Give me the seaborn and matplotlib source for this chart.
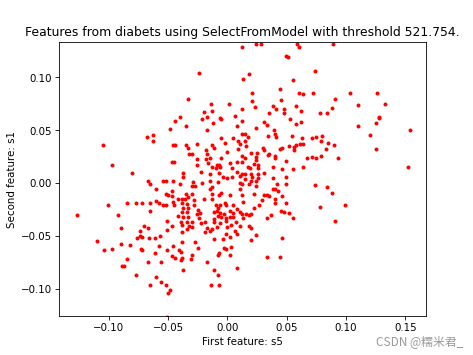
import matplotlib
matplotlib.use("Agg")
import matplotlib.pyplot as plt
import seaborn as sns

# feature values (first feature / second feature)
first_feature = [
    0.012, -0.024, 0.013, -0.033, -0.014, 0.001, -0.020, -0.013, 0.012, -0.040,
    -0.044, -0.021, -0.017, -0.006, -0.005, 0.006, 0.012, -0.012, -0.035, -0.048,
    -0.017, 0.008, 0.012, -0.063, 0.024, 0.028, 0.059, 0.060, 0.089, 0.049,
    0.051, 0.074, 0.018, 0.055, 0.044, 0.021, 0.060, 0.064, 0.072, 0.021,
    0.045, 0.091, 0.023, 0.038, 0.041, 0.048, 0.058, 0.062, 0.035, 0.048,
    0.078, 0.084, 0.088, 0.053, 0.062, 0.031, 0.033, 0.058, 0.024, 0.039,
    0.040, 0.054, 0.015, 0.034, 0.080, 0.103, 0.126, 0.110, 0.133, 0.128,
    0.128, 0.125, 0.110, 0.154, 0.120, -0.068, -0.105, -0.097, -0.080, -0.067,
    -0.065, -0.101, -0.085, -0.077, -0.072, -0.065, -0.127, -0.092, -0.065, -0.090,
    -0.070, -0.067, 0.090, 0.125, 0.093, 0.152, 0.099, 0.091, 0.020, 0.024,
    0.020, 0.046, 0.033, 0.044, -0.110, -0.104, -0.097, -0.090, -0.082, -0.076,
    -0.074, -0.072, -0.074, -0.066, -0.073, -0.072, -0.085, -0.089, -0.087, -0.067,
    -0.077, -0.065, -0.051, -0.061, -0.057, -0.047, -0.038, -0.034, -0.019, -0.015,
    -0.013, 0.000, -0.001, 0.006, 0.008, -0.011, -0.004, 0.002, -0.038, -0.027,
    -0.046, -0.058, -0.051, -0.041, -0.039, -0.025, -0.061, -0.003, -0.001, 0.003,
    -0.007, -0.008, 0.002, -0.047, -0.044, -0.039, -0.038, -0.030, -0.031, -0.056,
    -0.017, -0.037, -0.011, 0.008, -0.008, -0.060, -0.056, -0.052, -0.014, -0.007,
    -0.048, -0.050, -0.051, -0.063, -0.046, -0.044, -0.035, -0.033, -0.026, -0.013,
    -0.011, -0.005, -0.002, 0.005, 0.009, 0.011, -0.032, -0.030, -0.018, -0.017,
    0.000, 0.009, -0.026, -0.018, -0.015, -0.005, -0.047, -0.045, -0.016, -0.009,
    -0.007, -0.006, 0.002, 0.008, -0.010, 0.004, 0.012, -0.026, -0.013, -0.037,
    -0.022, -0.037, -0.015, -0.007, 0.008, 0.011, -0.004, 0.004, 0.000, -0.054,
    -0.052, -0.046, -0.040, -0.029, -0.021, -0.015, -0.008, -0.015, -0.013, 0.011,
    -0.030, -0.027, -0.060, -0.047, -0.052, -0.050, -0.047, -0.035, -0.030, -0.013,
    -0.007, -0.005, 0.002, 0.011, 0.012, -0.042, -0.038, -0.036, -0.033, -0.028,
    -0.020, -0.013, -0.060, -0.058, -0.046, -0.038, -0.034, -0.054, -0.052, -0.045,
    -0.037, -0.033, -0.028, -0.025, -0.010, -0.008, -0.006, -0.002, -0.001, 0.005,
    0.013, -0.038, -0.034, -0.026, -0.023, -0.011, -0.009, -0.006, -0.003, 0.002,
    0.005, 0.011, 0.008, -0.042, -0.037, -0.033, -0.024, -0.011, -0.008, -0.005,
    -0.001, 0.002, 0.005, 0.012, 0.013, -0.039, -0.038, -0.034, -0.030, -0.022,
    -0.019, -0.011, -0.006, -0.001, 0.003, 0.007, -0.032, -0.030, -0.017, -0.009,
    0.011, -0.051, 0.017, 0.015, 0.016, 0.041, 0.063, 0.071, 0.075, 0.079,
    0.085, 0.058, 0.061, 0.064, 0.056, 0.052, 0.046, 0.044, 0.030, 0.031,
    0.020, 0.025, 0.012, 0.035, 0.034, 0.040, 0.040, 0.056, 0.015, 0.024,
    0.024, 0.049, 0.067, 0.071, 0.075, 0.079, 0.083, 0.022, 0.017, 0.019,
    0.026, 0.026, 0.038, 0.046, 0.055, 0.064, 0.012, 0.015, 0.020, 0.021,
    0.026, 0.026, 0.031, 0.015, 0.038, 0.049, 0.020, 0.024, 0.012, 0.018,
    0.024, 0.042, 0.049, 0.074, 0.084, 0.038, 0.040, 0.033, 0.035, 0.031,
    0.043, 0.022, 0.046, 0.088, 0.040, 0.029, 0.040, 0.049, 0.027, 0.022,
    0.078, 0.018, 0.016, 0.020, 0.045, 0.048, 0.052, 0.037, 0.033, 0.055,
    0.018,
]
second_feature = [
    0.129, 0.104, 0.099, 0.080, 0.075, 0.075, 0.067, 0.068, 0.070, 0.063,
    0.059, 0.061, 0.063, 0.062, 0.061, 0.064, 0.059, 0.057, 0.054, 0.051,
    0.050, 0.054, 0.047, 0.046, 0.132, 0.132, 0.132, 0.129, 0.132, 0.120,
    0.119, 0.106, 0.103, 0.098, 0.089, 0.085, 0.085, 0.084, 0.085, 0.078,
    0.079, 0.080, 0.072, 0.073, 0.070, 0.070, 0.073, 0.068, 0.066, 0.066,
    0.066, 0.066, 0.071, 0.061, 0.058, 0.058, 0.055, 0.056, 0.052, 0.050,
    0.047, 0.045, 0.047, 0.045, 0.045, 0.085, 0.085, 0.074, 0.075, 0.063,
    0.062, 0.057, 0.054, 0.050, 0.046, 0.044, 0.036, 0.017, 0.010, 0.002,
    -0.001, -0.021, -0.019, -0.019, -0.019, -0.019, -0.030, -0.030, -0.026, -0.042,
    -0.040, -0.042, 0.036, 0.032, 0.024, 0.015, -0.021, -0.036, -0.042, -0.049,
    -0.054, -0.052, -0.070, -0.070, -0.055, -0.063, -0.062, -0.057, -0.058, -0.052,
    -0.050, -0.051, -0.045, -0.052, -0.062, -0.063, -0.072, -0.078, -0.078, -0.074,
    -0.087, -0.096, -0.044, -0.052, -0.050, -0.040, -0.046, -0.043, -0.046, -0.045,
    -0.043, -0.041, -0.048, -0.045, -0.048, -0.053, -0.053, -0.051, -0.056, -0.056,
    -0.059, -0.059, -0.063, -0.063, -0.065, -0.061, -0.066, -0.061, -0.062, -0.060,
    -0.066, -0.068, -0.068, -0.069, -0.071, -0.073, -0.071, -0.068, -0.072, -0.074,
    -0.074, -0.082, -0.082, -0.080, -0.087, -0.089, -0.093, -0.096, -0.096, -0.096,
    -0.101, -0.104, -0.126, 0.040, 0.036, 0.036, 0.036, 0.033, 0.037, 0.036,
    0.033, 0.043, 0.038, 0.043, 0.040, 0.037, 0.028, 0.028, 0.031, 0.028,
    0.030, 0.032, 0.023, 0.023, 0.024, 0.024, 0.020, 0.020, 0.019, 0.017,
    0.017, 0.015, 0.019, 0.020, 0.014, 0.014, 0.020, 0.017, 0.015, 0.010,
    0.011, 0.006, 0.009, 0.010, 0.011, 0.007, 0.006, 0.006, 0.005, 0.002,
    0.002, 0.002, -0.001, 0.001, 0.000, 0.002, 0.001, -0.005, -0.004, 0.000,
    -0.003, -0.003, -0.005, -0.007, -0.010, -0.011, -0.012, -0.010, -0.010, -0.010,
    -0.011, -0.009, -0.011, -0.005, -0.011, -0.015, -0.015, -0.015, -0.013, -0.016,
    -0.015, -0.015, -0.017, -0.019, -0.018, -0.019, -0.020, -0.021, -0.021, -0.021,
    -0.023, -0.023, -0.021, -0.025, -0.021, -0.023, -0.021, -0.019, -0.021, -0.021,
    -0.018, -0.027, -0.027, -0.029, -0.028, -0.027, -0.026, -0.028, -0.029, -0.026,
    -0.028, -0.027, -0.024, -0.031, -0.032, -0.032, -0.033, -0.034, -0.031, -0.032,
    -0.033, -0.032, -0.032, -0.029, -0.033, -0.037, -0.039, -0.037, -0.037, -0.038,
    -0.037, -0.037, -0.038, -0.036, -0.039, -0.037, -0.040, -0.041, -0.042, -0.041,
    -0.040, -0.036, 0.044, 0.040, 0.035, 0.044, 0.043, 0.043, 0.044, 0.040,
    0.038, 0.036, 0.037, 0.037, 0.034, 0.035, 0.033, 0.032, 0.033, 0.031,
    0.029, 0.029, 0.026, 0.028, 0.027, 0.026, 0.024, 0.031, 0.024, 0.025,
    0.022, 0.021, 0.024, 0.025, 0.024, 0.026, 0.032, 0.018, 0.015, 0.014,
    0.017, 0.014, 0.015, 0.013, 0.013, 0.015, 0.009, 0.009, 0.009, 0.006,
    0.009, 0.005, 0.010, 0.004, 0.005, 0.006, 0.002, 0.002, -0.001, -0.001,
    -0.003, -0.001, -0.001, -0.002, -0.004, -0.005, -0.005, -0.011, -0.012, -0.011,
    -0.007, -0.010, -0.012, -0.009, -0.015, -0.016, -0.019, -0.019, -0.021, -0.023,
    -0.022, -0.030, -0.029, -0.029, -0.026, -0.027, -0.028, -0.030, -0.033, -0.033,
    -0.040,
]

title = "Features from diabets using SelectFromModel with threshold 521.754."

fig = plt.figure(figsize=(6.4, 4.8), dpi=74)
ax = fig.add_subplot(111)
sns.scatterplot(x=first_feature, y=second_feature, color="red", marker="o",
                s=15, linewidth=0, ax=ax)
ax.set_xlim(-0.1417, 0.1675)
ax.set_ylim(-0.1254, 0.1331)
ax.set_title(title)
ax.set_xlabel("First feature: s5")
ax.set_ylabel("Second feature: s1")

# watermark from the source image
fig.text(0.978, 0.038, "CSDN @糯米君_", ha="right", va="center", fontsize=11.5,
         color="#999999", family=["Noto Sans CJK SC", "DejaVu Sans"])

fig.savefig("out.png", dpi=74)
